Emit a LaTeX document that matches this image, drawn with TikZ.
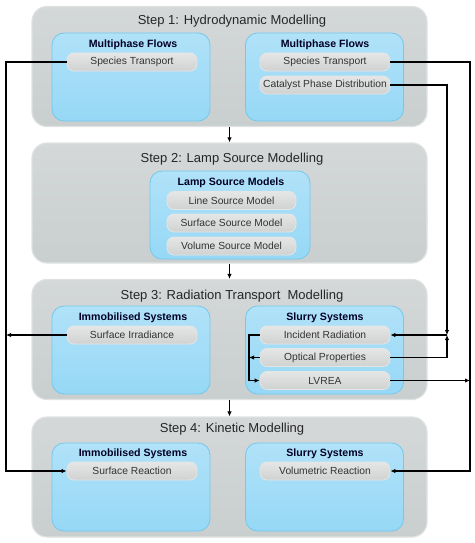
\documentclass[tikz,border=0pt]{standalone}
\usepackage{fontspec}
\setmainfont{Liberation Sans}
\usetikzlibrary{arrows.meta}

\definecolor{stepgrey}{HTML}{C9CECE}
\definecolor{stepedge}{HTML}{E0E2E2}
\definecolor{groupblue}{HTML}{96D8F6}
\definecolor{groupedge}{HTML}{74C8EC}
\definecolor{pillgrey}{HTML}{D0D1D1}
\definecolor{pilledge}{HTML}{E4E5E5}

\tikzset{
    stepbox/.style={draw=stepedge, line width=1.2pt, rounded corners=15pt,
        top color=stepgrey!80!white, bottom color=stepgrey,
        minimum width=395pt, minimum height=120pt},
    groupbox/.style={draw=groupedge, line width=0.8pt, rounded corners=12pt,
        top color=groupblue!75!white, bottom color=groupblue,
        minimum width=158pt, minimum height=88pt},
    pill/.style={draw=pilledge, line width=0.8pt, rounded corners=7pt,
        top color=pillgrey!55!white, bottom color=pillgrey,
        minimum width=130pt, minimum height=18pt, inner sep=0pt,
        font=\fontsize{10.3}{12}\selectfont, text=black!80},
    steptitle/.style={font=\fontsize{13}{15}\selectfont, text=black!85},
    grouptitle/.style={font=\bfseries\fontsize{10.6}{12}\selectfont, text=black!85!blue},
    link/.style={line width=1.3pt, -{Latex[length=5pt,width=4.5pt]}}
}

\begin{document}
\begin{tikzpicture}[x=1pt,y=-1pt]
    \useasboundingbox (0,0) rectangle (474,543);

    % steps
    \node[stepbox] (step1) at (229.5,66.5) {};
    \node[stepbox] (step2) at (229.5,203) {};
    \node[stepbox] (step3) at (229.5,339.5) {};
    \node[stepbox] (step4) at (229.5,477) {};

    \node[steptitle] (title1) at (232,21) {Step 1: Hydrodynamic Modelling};
    \node[steptitle] (title2) at (232,159) {Step 2: Lamp Source Modelling};
    \node[steptitle] (title3) at (232,296) {Step 3: Radiation Transport\ \ Modelling};
    \node[steptitle] (title4) at (232,429) {Step 4: Kinetic Modelling};

    % groups
    \node[groupbox] (hydroL) at (131,77) {};
    \node[groupbox] (hydroR) at (324.5,77) {};
    \node[groupbox, minimum width=160pt] (lamp) at (230,215) {};
    \node[groupbox] (radL) at (131,350) {};
    \node[groupbox] (radR) at (324.5,350) {};
    \node[groupbox] (kinL) at (131,487) {};
    \node[groupbox] (kinR) at (324.5,487) {};

    \node[grouptitle] at (133,45) {Multiphase Flows};
    \node[grouptitle] at (325,45) {Multiphase Flows};
    \node[grouptitle] at (231,183) {Lamp Source Models};
    \node[grouptitle] at (133,318) {Immobilised Systems};
    \node[grouptitle] at (325,318) {Slurry Systems};
    \node[grouptitle] at (133,454) {Immobilised Systems};
    \node[grouptitle] at (325,454) {Slurry Systems};

    % models
    \node[pill] (specL) at (132,62) {Species Transport};
    \node[pill] (specR) at (325,62) {Species Transport};
    \node[pill] (catal) at (325,85) {Catalyst Phase Distribution};
    \node[pill, minimum width=129pt] (line) at (231.5,200.5) {Line Source Model};
    \node[pill, minimum width=129pt] (surf) at (231.5,223) {Surface Source Model};
    \node[pill, minimum width=129pt] (vol) at (231.5,246) {Volume Source Model};
    \node[pill] (irrad) at (132,335) {Surface Irradiance};
    \node[pill] (incid) at (325,335) {Incident Radiation};
    \node[pill] (optic) at (325,357.5) {Optical Properties};
    \node[pill] (lvrea) at (325,380.5) {LVREA};
    \node[pill] (sreac) at (132,471) {Surface Reaction};
    \node[pill] (vreac) at (325,471) {Volumetric Reaction};

    % connectors
    \coordinate (lbus) at (6,300);
    \coordinate (rbus) at (470,300);
    \coordinate (mbus) at (447,335);
    \coordinate (sbus) at (249,350);

    \draw[link] (step1) -- (step2);
    \draw[link] (step2) -- (step3);
    \draw[link] (step3) -- (step4);

    \draw[link] (specL.west) -| (lbus) |- (sreac.west);
    \draw[link] (irrad.west) -- (irrad.west -| lbus);
    \draw[link] (specR.east) -| (rbus) |- (vreac.east);
    \draw[link] (lvrea.east) -- (lvrea.east -| rbus);
    \draw[link] (catal.east) -| (mbus);
    \draw[link] (optic.east) -| (mbus);
    \draw[link] (mbus) -- (incid.east);
    \draw[link] (incid.west) -| (sbus) |- (lvrea.west);
    \draw[link] (optic.west) -- (optic.west -| sbus);
\end{tikzpicture}
\end{document}
